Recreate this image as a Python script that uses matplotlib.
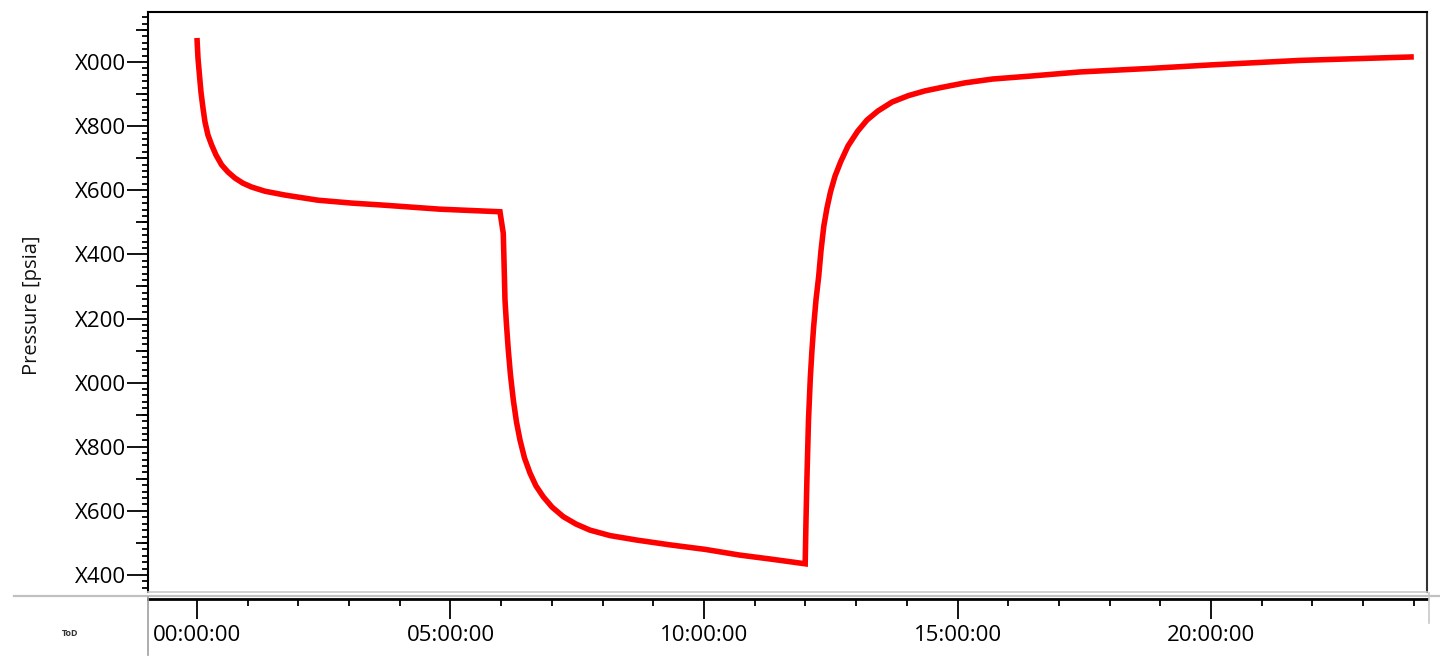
import matplotlib
matplotlib.use('Agg')
import matplotlib.pyplot as plt
from matplotlib.lines import Line2D
from matplotlib.ticker import FixedLocator, FuncFormatter, NullFormatter

# -------- Datos -------- #
time_h = [0.000, 0.020, 0.049, 0.079, 0.118, 0.158, 0.217, 0.290, 0.375, 0.487, 0.611, 0.750,
          0.907, 1.079, 1.341, 1.736, 2.387, 3.051, 3.643, 4.793, 5.976,
          6.041, 6.055, 6.075, 6.105, 6.140, 6.183, 6.239, 6.302, 6.371, 6.460, 6.568, 6.686,
          6.830, 7.002, 7.225, 7.475, 7.751, 8.146, 8.672, 9.330, 10.020, 10.710, 11.300, 11.996,
          12.012, 12.030, 12.061, 12.097, 12.130, 12.162, 12.209, 12.262, 12.308, 12.363, 12.426,
          12.495, 12.584, 12.696, 12.840, 13.030, 13.215, 13.428, 13.708, 14.028, 14.359, 14.694,
          15.148, 15.694, 16.430, 17.416, 18.797, 20.000, 21.755, 24.000]
pressure_psia = [4075, 4012, 3959, 3906, 3857, 3813, 3772, 3741, 3710, 3679, 3657, 3638,
                 3622, 3610, 3597, 3585, 3569, 3560, 3554, 3541, 3533,
                 3466, 3383, 3258, 3180, 3102, 3024, 2946, 2877, 2821, 2765, 2718, 2678,
                 2644, 2612, 2582, 2559, 2540, 2523, 2509, 2494, 2480, 2462, 2450, 2435,
                 2571, 2699, 2883, 3015, 3102, 3173, 3258, 3331, 3412, 3488, 3545,
                 3595, 3644, 3689, 3738, 3784, 3819, 3847, 3875, 3895, 3910, 3921,
                 3935, 3947, 3956, 3969, 3980, 3991, 4005, 4016]

x_major = [0, 5, 10, 15, 20]
x_minor = [h for h in range(0, 25) if h not in x_major]
y_major = list(range(2400, 4001, 200))
y_mid = list(range(2500, 4101, 200))
y_minor = list(range(2360, 4160, 20))

plt.rcParams['font.family'] = ['Open Sans', 'DejaVu Sans']

W, H = 1440, 669
fig = plt.figure(figsize=(W / 100, H / 100), dpi=100)

# --- Ejes principales --- #
ax = fig.add_axes([148 / W, 1 - 592 / H, (1427 - 148) / W, (592 - 12) / H])
ax.plot(time_h, pressure_psia, color='#ff0000', lw=4.0,
        solid_joinstyle='miter', solid_capstyle='butt')
ax.set_xlim(-0.966, 24.26)
ax.set_ylim(2347, 4156)
ax.set_xticks([])

ax.yaxis.set_major_locator(FixedLocator(y_major))
ax.yaxis.set_minor_locator(FixedLocator(y_minor))
ax.yaxis.set_major_formatter(FuncFormatter(lambda v, p: 'X%03d' % (int(round(v)) % 1000)))
ax.tick_params(axis='y', which='major', length=15, width=1.3, pad=1, labelsize=16, color='black')
ax.tick_params(axis='y', which='minor', length=4.5, width=1.3, color='black')

mid = ax.secondary_yaxis('left')
mid.yaxis.set_major_locator(FixedLocator(y_mid))
mid.yaxis.set_major_formatter(NullFormatter())
mid.tick_params(length=8.6, width=1.3, color='black')
mid.spines['left'].set_visible(False)

ax.spines['left'].set_linewidth(1.5)
ax.spines['top'].set_linewidth(1.5)
ax.spines['right'].set_linewidth(1.5)
ax.spines['right'].set_color('#333333')
ax.spines['bottom'].set_linewidth(1.2)
ax.spines['bottom'].set_color('#c8c8c8')

fig.text(32 / W, 1 - 305 / H, 'Pressure [psia]', rotation=90, fontsize=14.5,
         ha='center', va='center', color='#111111')

# --- Eje de tiempo --- #
ax2 = fig.add_axes([148 / W, 1 - 599 / H, (1427 - 148) / W, 0.0001])
ax2.set_xlim(ax.get_xlim())
ax2.set_yticks([])
for s in ['top', 'left', 'right']:
    ax2.spines[s].set_visible(False)
ax2.spines['bottom'].set_linewidth(2)
ax2.xaxis.set_major_locator(FixedLocator(x_major))
ax2.xaxis.set_minor_locator(FixedLocator(x_minor))
ax2.xaxis.set_major_formatter(FuncFormatter(lambda v, p: '%02d:00:00' % int(round(v))))
ax2.tick_params(axis='x', which='major', length=14.4, width=1.3, pad=4, labelsize=16)
ax2.tick_params(axis='x', which='minor', length=5, width=1.3)

for tick, loc in zip(ax2.xaxis.get_major_ticks(), x_major):
    if loc in (time_h[0], time_h[-1]):
        tick.tick1line.set_color('#c02020')
for tick, loc in zip(ax2.xaxis.get_minor_ticks(), x_minor):
    if loc in (time_h[0], time_h[-1]):
        tick.tick1line.set_color('#c02020')

# --- Separadores --- #
fig.add_artist(Line2D([14 / W, 1], [1 - 596 / H] * 2, color='#c0c0c0', lw=1.6))
fig.add_artist(Line2D([148 / W] * 2, [1 - 597 / H, 1 - 655 / H], color='#a0a0a0', lw=1.2))
fig.add_artist(Line2D([1429 / W] * 2, [1 - 593 / H, 1 - 623 / H], color='#c8c8c8', lw=1.2))

fig.text(70 / W, 1 - 633 / H, 'ToD', fontsize=6.5, fontweight='bold',
         ha='center', va='center', color='#333333')

fig.savefig('out.png', dpi=100)
